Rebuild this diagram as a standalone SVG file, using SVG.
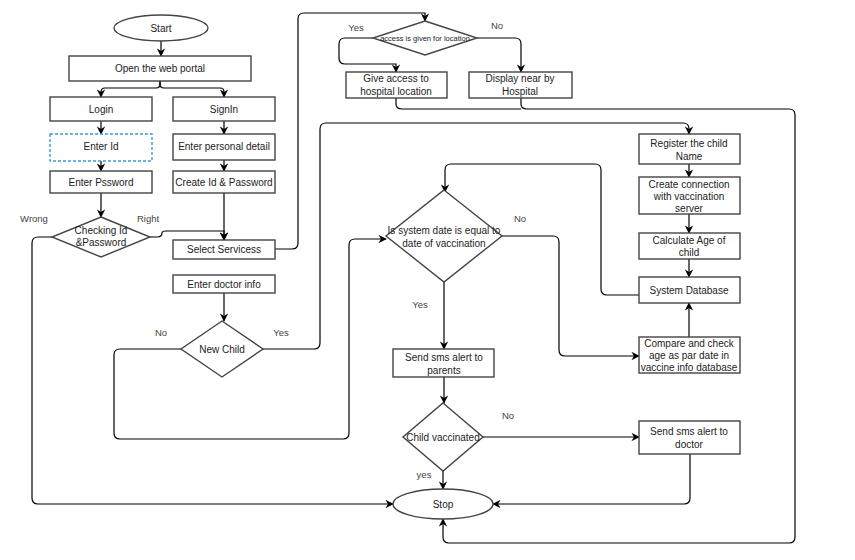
<svg xmlns="http://www.w3.org/2000/svg" width="855" height="560" viewBox="0 0 855 560">
<defs>
<marker id="ah" viewBox="0 0 10 10" refX="9" refY="5" markerWidth="7" markerHeight="7" orient="auto"><path d="M0,0 L10,5 L0,10 L3,5 Z" fill="#000"/></marker>
<style>
.b{fill:#fff;stroke:#444;stroke-width:1.4}
.t{font-family:"Liberation Sans",Arial,sans-serif;font-size:10px;fill:#222;text-anchor:middle}
.l{font-family:"Liberation Sans",Arial,sans-serif;font-size:9.5px;fill:#444;text-anchor:middle}
.c{fill:none;stroke:#000;stroke-width:1.2;marker-end:url(#ah)}
</style>
</defs>
<rect width="855" height="560" fill="#fff"/>
<g id="connectors">
<path class="c" d="M161 41V56"/>
<path class="c" d="M160 81V84Q160 88 156 88H105Q101 88 101 92V97"/>
<path class="c" d="M160 81V84Q160 88 164 88H220Q224 88 224 92V97"/>
<path class="c" d="M101 121V134"/>
<path class="c" d="M101 161V171"/>
<path class="c" d="M101 193V217"/>
<path class="c" d="M224 121V134"/>
<path class="c" d="M224 160V171"/>
<path class="c" d="M224 193V240"/>
<path class="c" d="M150 237H157Q162 237 162 233Q162 231 166 231H224V240"/>
<path class="c" d="M52 237H38Q32 237 32 243V498Q32 504 38 504H393"/>
<path class="c" d="M275 249H292Q298 249 298 243V19Q298 13 304 13H425V21"/>
<path class="c" d="M373 38H345Q339 38 339 44V58Q339 64 345 64H396V72"/>
<path class="c" d="M477 38H515Q521 38 521 44V72"/>
<path fill="none" stroke="#000" stroke-width="1.2" d="M396 98V104Q396 109 402 109H521"/>
<path class="c" d="M521 98V104Q521 109 527 109H789Q795 109 795 115V537Q795 543 789 543H449Q443 543 443 537V519"/>
<path class="c" d="M224 293V321"/>
<path class="c" d="M263 349H314Q320 349 320 343V129Q320 123 326 123H683Q689 123 689 129V134"/>
<path class="c" d="M181 349H120Q114 349 114 355V433Q114 439 120 439H343Q349 439 349 433V245Q349 239 355 239H386"/>
<path class="c" d="M689 164V177"/>
<path class="c" d="M689 214V233"/>
<path class="c" d="M689 259V277"/>
<path class="c" d="M639 295H607Q601 295 601 289V170Q601 164 595 164H451Q445 164 445 170V192"/>
<path class="c" d="M502 236H553Q559 236 559 242V350Q559 356 565 356H639"/>
<path class="c" d="M689 337V303"/>
<path class="c" d="M444 282V349"/>
<path class="c" d="M444 377V403"/>
<path class="c" d="M483 437H639"/>
<path class="c" d="M443 471V489"/>
<path class="c" d="M690 454V498Q690 504 684 504H493"/>
</g>
<g id="labels">
<text class="l" x="34" y="222">Wrong</text>
<text class="l" x="148" y="222">Right</text>
<text class="l" x="356" y="31">Yes</text>
<text class="l" x="497" y="29">No</text>
<text class="l" x="161" y="336">No</text>
<text class="l" x="281" y="336">Yes</text>
<text class="l" x="520" y="222">No</text>
<text class="l" x="420" y="308">Yes</text>
<text class="l" x="508" y="419">No</text>
<text class="l" x="424" y="478">yes</text>
</g>
<g id="start"><ellipse class="b" cx="161" cy="28" rx="47" ry="13"/><text class="t" x="161" y="32">Start</text></g>
<g id="portal"><rect class="b" x="69" y="56" width="182" height="25"/><text class="t" x="160" y="72">Open the web portal</text></g>
<g id="login"><rect class="b" x="50" y="97" width="102" height="24"/><text class="t" x="101" y="113">Login</text></g>
<g id="signin"><rect class="b" x="173" y="97" width="102" height="24"/><text class="t" x="224" y="113">SignIn</text></g>
<g id="enterid"><rect class="b" x="50" y="134" width="102" height="27" style="stroke:#3a9ad9;stroke-dasharray:3,2"/><text class="t" x="101" y="150">Enter Id</text></g>
<g id="personal"><rect class="b" x="173" y="134" width="102" height="26"/><text class="t" x="224" y="150">Enter personal detail</text></g>
<g id="pssword"><rect class="b" x="50" y="171" width="102" height="22"/><text class="t" x="101" y="186">Enter Pssword</text></g>
<g id="createid"><rect class="b" x="173" y="171" width="102" height="22"/><text class="t" x="224" y="186">Create Id &amp; Password</text></g>
<g id="checking"><path class="b" d="M101 217L150 237L101 257L52 237Z"/><text class="t" x="101" y="234">Checking Id</text><text class="t" x="101" y="246">&amp;Password</text></g>
<g id="select"><rect class="b" x="173" y="240" width="102" height="19"/><text class="t" x="224" y="253">Select Servicess</text></g>
<g id="doctorinfo"><rect class="b" x="173" y="275" width="102" height="18"/><text class="t" x="224" y="288">Enter doctor info</text></g>
<g id="newchild"><path class="b" d="M222 321L263 349L222 377L181 349Z"/><text class="t" x="222" y="353">New Child</text></g>
<g id="access"><path class="b" d="M425 21L477 38L425 55L373 38Z"/><text class="t" x="425" y="41" style="font-size:7.5px">access is given for location</text></g>
<g id="giveaccess"><rect class="b" x="346" y="72" width="101" height="26"/><text class="t" x="396" y="82">Give access to</text><text class="t" x="396" y="95">hospital location</text></g>
<g id="display"><rect class="b" x="469" y="72" width="103" height="26"/><text class="t" x="520" y="82">Display near by</text><text class="t" x="520" y="95">Hospital</text></g>
<g id="register"><rect class="b" x="639" y="134" width="101" height="30"/><text class="t" x="689" y="147">Register the child</text><text class="t" x="689" y="160">Name</text></g>
<g id="connection"><rect class="b" x="639" y="177" width="101" height="37"/><text class="t" x="689" y="188">Create connection</text><text class="t" x="689" y="200">with vaccination</text><text class="t" x="689" y="212">server</text></g>
<g id="calc"><rect class="b" x="639" y="233" width="101" height="26"/><text class="t" x="689" y="244">Calculate Age of</text><text class="t" x="689" y="256">child</text></g>
<g id="sysdb"><rect class="b" x="639" y="277" width="101" height="26"/><text class="t" x="689" y="294">System Database</text></g>
<g id="compare"><rect class="b" x="639" y="337" width="101" height="36"/><text class="t" x="689" y="347">Compare and check</text><text class="t" x="689" y="359">age as par date in</text><text class="t" x="689" y="371">vaccine info database</text></g>
<g id="datecheck"><path class="b" d="M444 190L502 236L444 282L386 236Z"/><text class="t" x="444" y="234">Is system date is equal to</text><text class="t" x="444" y="247">date of vaccination</text></g>
<g id="parents"><rect class="b" x="393" y="349" width="101" height="28"/><text class="t" x="444" y="361">Send sms alert to</text><text class="t" x="444" y="374">parents</text></g>
<g id="vaccinated"><path class="b" d="M443 403L483 437L443 471L403 437Z"/><text class="t" x="443" y="441">Child vaccinated</text></g>
<g id="doctor"><rect class="b" x="639" y="421" width="101" height="33"/><text class="t" x="689" y="435">Send sms alert to</text><text class="t" x="689" y="448">doctor</text></g>
<g id="stop"><ellipse class="b" cx="443" cy="504" rx="50" ry="15"/><text class="t" x="443" y="508">Stop</text></g>
</svg>
